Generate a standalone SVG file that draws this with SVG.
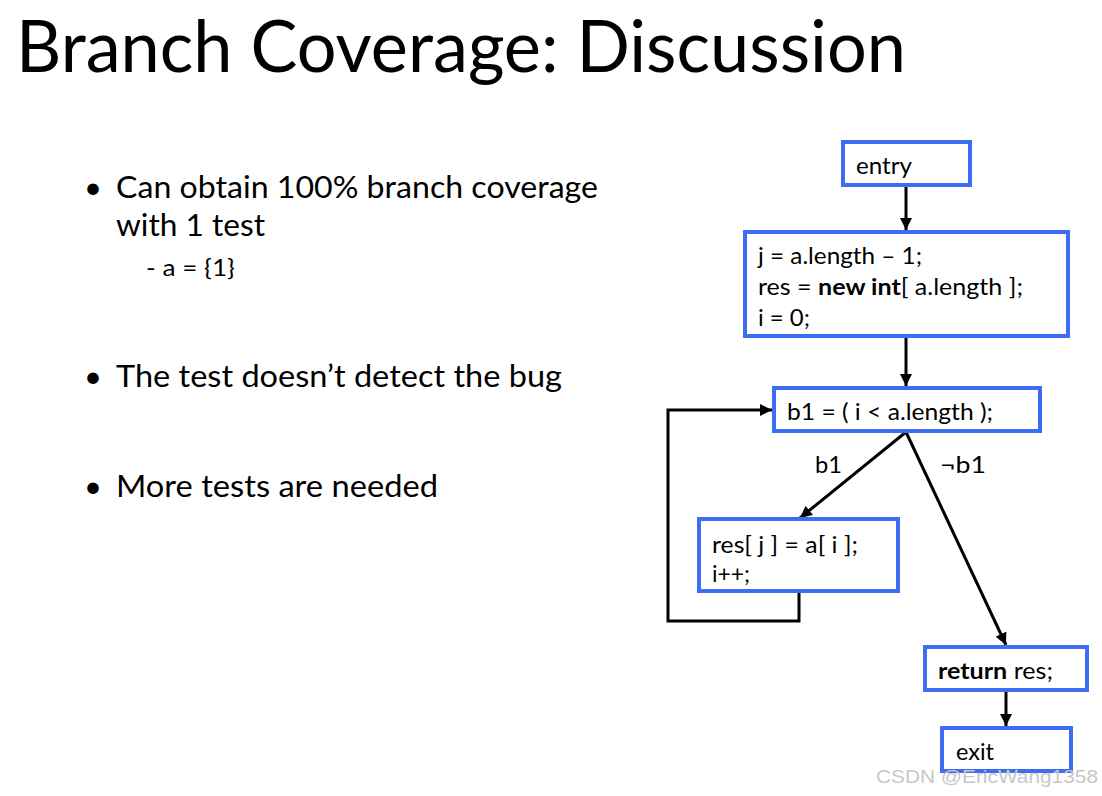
<svg xmlns="http://www.w3.org/2000/svg" width="1102" height="796" viewBox="0 0 1102 796">
<defs>
<style>
.t{font-family:Lato,"Open Sans","Liberation Sans",sans-serif;fill:#000}
.title{font-size:71px}
.b{font-size:31px}
.s{font-size:23px}
.n{font-size:23.5px}
.box{fill:#fff;stroke:#3d6cf5;stroke-width:4}
.c{fill:none;stroke:#000;stroke-width:3}
.wm{font-family:"Liberation Sans",Arial,sans-serif;font-size:19px;fill:#c8c8c8}
</style>
<marker id="ah" viewBox="0 0 10 10" refX="10" refY="5" markerWidth="4" markerHeight="4" orient="auto" markerUnits="strokeWidth">
<path d="M0,0 L10,5 L0,10 z" fill="#000"/>
</marker>
</defs>
<rect width="1102" height="796" fill="#fff"/>
<text class="t title" x="16" y="72" textLength="890" lengthAdjust="spacingAndGlyphs">Branch Coverage: Discussion</text>
<g id="bullets">
<text class="t b" x="84" y="198">•</text>
<text class="t b" x="116" y="198" textLength="482" lengthAdjust="spacingAndGlyphs">Can obtain 100% branch coverage</text>
<text class="t b" x="116" y="236" textLength="149" lengthAdjust="spacingAndGlyphs">with 1 test</text>
<text class="t s" x="146" y="276" textLength="89" lengthAdjust="spacingAndGlyphs">- a = {1}</text>
<text class="t b" x="84" y="387">•</text>
<text class="t b" x="116" y="387" textLength="446" lengthAdjust="spacingAndGlyphs">The test doesn’t detect the bug</text>
<text class="t b" x="84" y="497">•</text>
<text class="t b" x="116" y="497" textLength="322" lengthAdjust="spacingAndGlyphs">More tests are needed</text>
</g>
<g id="connectors">
<line class="c" x1="906" y1="186" x2="906" y2="230" marker-end="url(#ah)"/>
<line class="c" x1="906" y1="338" x2="906" y2="386" marker-end="url(#ah)"/>
<line class="c" x1="906" y1="432" x2="800" y2="518" marker-end="url(#ah)"/>
<line class="c" x1="906" y1="432" x2="1006" y2="645" marker-end="url(#ah)"/>
<polyline class="c" points="799,592 799,621 668,621 668,410 772,410" marker-end="url(#ah)"/>
<line class="c" x1="1006" y1="691" x2="1006" y2="726" marker-end="url(#ah)"/>
<text class="t n" x="815" y="473" textLength="27" lengthAdjust="spacingAndGlyphs">b1</text>
<text class="t n" x="940" y="473" textLength="46" lengthAdjust="spacingAndGlyphs">¬b1</text>
</g>
<g id="entry">
<rect class="box" x="843" y="142" width="127" height="43"/>
<text class="t n" x="856" y="174" textLength="56" lengthAdjust="spacingAndGlyphs">entry</text>
</g>
<g id="init">
<rect class="box" x="745" y="232" width="323" height="104"/>
<text class="t n" x="758" y="264" textLength="164" lengthAdjust="spacingAndGlyphs">j = a.length – 1;</text>
<text class="t n" x="758" y="295" textLength="265" lengthAdjust="spacingAndGlyphs">res = <tspan font-weight="bold">new int</tspan>[ a.length ];</text>
<text class="t n" x="758" y="326" textLength="52" lengthAdjust="spacingAndGlyphs">i = 0;</text>
</g>
<g id="cond">
<rect class="box" x="774" y="388" width="266" height="43"/>
<text class="t n" x="787" y="420" textLength="206" lengthAdjust="spacingAndGlyphs">b1 = ( i &lt; a.length );</text>
</g>
<g id="body">
<rect class="box" x="699" y="519" width="199" height="72"/>
<text class="t n" x="712" y="553" textLength="146" lengthAdjust="spacingAndGlyphs">res[ j ] = a[ i ];</text>
<text class="t n" x="712" y="582" textLength="38" lengthAdjust="spacingAndGlyphs">i++;</text>
</g>
<g id="ret">
<rect class="box" x="925" y="647" width="162" height="43"/>
<text class="t n" x="938" y="679" textLength="115" lengthAdjust="spacingAndGlyphs"><tspan font-weight="bold">return</tspan> res;</text>
</g>
<g id="exit">
<rect class="box" x="942" y="728" width="129" height="43"/>
<text class="t n" x="956" y="760" textLength="38" lengthAdjust="spacingAndGlyphs">exit</text>
</g>
<text class="wm" x="876" y="783" textLength="222" lengthAdjust="spacingAndGlyphs">CSDN @EricWang1358</text>
</svg>
